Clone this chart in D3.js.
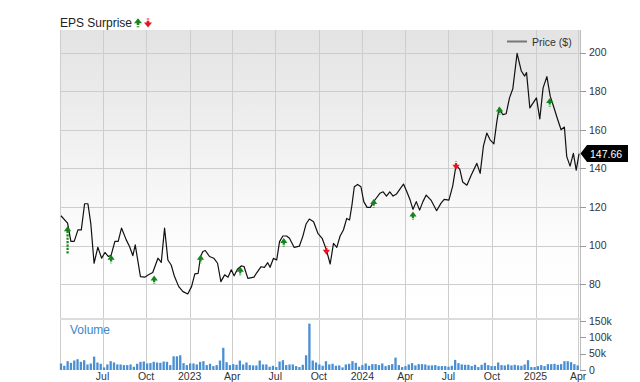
<!DOCTYPE html>
<html><head><meta charset="utf-8">
<script src="https://cdn.jsdelivr.net/npm/d3@7"></script>
<style>html,body{margin:0;padding:0;background:#fff}svg{display:block;font-family:"Liberation Sans",Arial,sans-serif}</style>
</head><body><svg id="c" width="640" height="382"></svg>
<script>
// ---------- data ----------
const priceDates = ["2022-04-04","2022-04-18","2022-04-25","2022-05-02","2022-05-10","2022-05-17","2022-05-24","2022-05-31","2022-06-06","2022-06-13","2022-06-21","2022-06-29","2022-07-06","2022-07-13","2022-07-19","2022-07-27","2022-08-03","2022-08-10","2022-08-20","2022-08-27","2022-09-03","2022-09-08","2022-09-19","2022-09-28","2022-10-06","2022-10-15","2022-10-26","2022-11-02","2022-11-09","2022-11-16","2022-11-23","2022-11-30","2022-12-09","2022-12-18","2022-12-28","2023-01-05","2023-01-12","2023-01-19","2023-01-24","2023-01-29","2023-02-03","2023-02-12","2023-02-21","2023-03-01","2023-03-08","2023-03-16","2023-03-23","2023-03-30","2023-04-05","2023-04-12","2023-04-20","2023-04-26","2023-05-04","2023-05-17","2023-05-22","2023-06-01","2023-06-08","2023-06-15","2023-06-20","2023-06-27","2023-07-04","2023-07-10","2023-07-17","2023-07-25","2023-07-31","2023-08-10","2023-08-21","2023-08-28","2023-09-04","2023-09-11","2023-09-20","2023-09-29","2023-10-08","2023-10-17","2023-10-25","2023-11-01","2023-11-08","2023-11-15","2023-11-22","2023-11-29","2023-12-05","2023-12-10","2023-12-15","2023-12-22","2023-12-29","2024-01-04","2024-01-11","2024-01-18","2024-01-25","2024-01-31","2024-02-07","2024-02-14","2024-02-21","2024-02-28","2024-03-06","2024-03-13","2024-03-20","2024-03-28","2024-04-04","2024-04-11","2024-04-17","2024-04-24","2024-05-01","2024-05-08","2024-05-15","2024-05-25","2024-06-06","2024-06-15","2024-06-22","2024-07-02","2024-07-10","2024-07-17","2024-07-25","2024-07-31","2024-08-09","2024-08-18","2024-08-30","2024-09-06","2024-09-13","2024-09-20","2024-09-27","2024-10-05","2024-10-11","2024-10-16","2024-10-24","2024-10-31","2024-11-07","2024-11-14","2024-11-23","2024-12-02","2024-12-09","2024-12-13","2024-12-20","2024-12-27","2025-01-03","2025-01-10","2025-01-17","2025-01-25","2025-02-01","2025-02-08","2025-02-17","2025-02-24","2025-03-03","2025-03-08","2025-03-15","2025-03-22","2025-03-28","2025-04-03"];
const priceValues = [115.5,111.7,102.2,102.2,108.2,108.2,121.7,121.7,111.7,90.9,99.2,93.5,96.5,94.4,95.0,102.2,102.2,109.1,103.0,99.6,94.8,100.4,84.0,83.7,84.9,86.1,93.5,91.3,109.1,92.6,90.0,84.0,78.8,76.2,75.0,78.8,85.4,85.7,94.4,97.0,97.5,94.4,93.5,90.9,81.4,84.9,83.7,87.5,84.4,87.8,89.5,89.2,83.1,83.7,85.7,89.1,88.8,91.2,88.8,93.4,92.6,102.1,105.0,105.0,103.8,99.1,99.8,104.7,111.2,113.8,112.4,106.4,103.8,97.8,90.5,101.2,99.1,105.0,108.1,114.1,113.3,121.0,130.5,131.7,130.5,122.8,119.8,119.8,122.8,124.8,127.1,127.9,125.7,127.9,125.7,126.7,129.1,131.9,127.9,123.6,118.8,122.8,118.4,122.8,126.2,123.6,118.1,121.9,124.0,123.6,131.0,141.7,139.5,133.0,131.3,136.5,142.6,137.4,151.7,158.3,154.8,152.7,163.8,171.3,167.8,168.3,176.5,181.2,199.5,190.4,187.8,189.6,171.3,173.9,176.5,165.6,181.7,187.5,177.4,172.2,165.2,160.0,161.4,146.1,141.2,147.8,139.1,147.66];
const lastPrice = 147.66;

const volumeWeekStart = "2022-04-04"; // one bar per week
const volumeValues = [20,13,27,22,29,33,25,30,17,20,41,23,19,8,17,27,23,17,17,15,15,17,10,19,25,26,20,21,25,23,22,26,25,15,42,42,45,21,15,
 20,20,17,25,27,15,19,12,15,29,68,24,15,18,16,29,17,23,15,14,14,29,17,17,10,13,9,26,30,15,17,17,12,9,16,45,142,29,23,
 17,13,27,17,19,13,14,8,17,19,27,22,10,15,20,13,18,18,15,20,12,15,18,38,15,9,12,17,21,14,18,18,17,14,14,15,12,12,12,
 10,13,31,21,17,16,16,12,16,9,16,22,15,12,12,23,15,14,17,14,16,14,13,17,30,9,9,12,15,12,18,18,19,16,18,27,27,24,18,14]; // thousands

const priceTicks = [80,100,120,140,160,180,200];
const volumeTicks = [0,50,100,150];
const volumeTickLabels = ["0","50k","100k","150k"];
const xTickDates = ["2022-07-01","2022-10-01","2023-01-01","2023-04-01","2023-07-01","2023-10-01","2024-01-01","2024-04-01","2024-07-01","2024-10-01","2025-01-01","2025-04-01"];
const xTickLabels = ["Jul","Oct","2023","Apr","Jul","Oct","2024","Apr","Jul","Oct","2025","Apr"];

const epsDates = ["2022-04-18","2022-07-19","2022-10-18","2023-01-24","2023-04-18","2023-07-19","2023-10-17","2024-01-25","2024-04-17","2024-07-17","2024-10-17","2025-01-31"];
const epsResult = ["beat","beat","beat","beat","beat","beat","miss","beat","beat","miss","beat","beat"];
const epsTip = [110,95.3,84.5,95.3,89.1,104,95.3,124.1,117.7,139.3,172,176.5];
const epsStemFrom = [95.3,null,null,null,null,null,null,null,null,null,null,null];

// ---------- drawing ----------
const parse = d3.utcParse("%Y-%m-%d");
const svg = d3.select("#c");
const L = 60, R = 580, PT = 30, PB = 318, VT = 319, VB = 370;
const GREEN = "#12861a", RED = "#e8141c", GRID = "#cdcdcd";

const x = d3.scaleUtc().domain([parse("2022-04-02"), parse("2025-04-05")]).range([L, R]);
const yP = d3.scaleLinear().domain([80, 200]).range([284.3, 52.5]);
const yV = d3.scaleLinear().domain([0, 150]).range([VB, 321]);

const defs = svg.append("defs");
const grad = defs.append("linearGradient").attr("id", "bg").attr("x1", 0).attr("y1", 0).attr("x2", 0).attr("y2", 1);
grad.append("stop").attr("offset", "0%").attr("stop-color", "#e3e3e3");
grad.append("stop").attr("offset", "75%").attr("stop-color", "#fdfdfd");
grad.append("stop").attr("offset", "100%").attr("stop-color", "#ffffff");

svg.append("rect").attr("x", L).attr("y", PT).attr("width", R - L).attr("height", PB - PT).attr("fill", "url(#bg)");
svg.append("rect").attr("x", L).attr("y", VT).attr("width", R - L).attr("height", VB - VT).attr("fill", "#fff");

// grid
const g = svg.append("g").attr("shape-rendering", "crispEdges");
g.selectAll(".hg").data(priceTicks).join("line")
  .attr("x1", L).attr("x2", R).attr("y1", d => Math.round(yP(d)) + 0.5).attr("y2", d => Math.round(yP(d)) + 0.5)
  .attr("stroke", GRID);
g.selectAll(".vg").data(xTickDates).join("line")
  .attr("x1", d => Math.round(x(parse(d))) + 0.5).attr("x2", d => Math.round(x(parse(d))) + 0.5)
  .attr("y1", PT).attr("y2", VB).attr("stroke", GRID);
g.append("line").attr("x1", L + 0.5).attr("x2", L + 0.5).attr("y1", PT).attr("y2", VB).attr("stroke", GRID);
g.append("line").attr("x1", L).attr("x2", R).attr("y1", 318.5).attr("y2", 318.5).attr("stroke", "#dcdcdc").attr("stroke-width", 2);

// volume bars
const vStart = parse(volumeWeekStart);
svg.append("g").selectAll("rect").data(volumeValues).join("rect")
  .attr("x", (d, i) => x(d3.utcDay.offset(vStart, 7 * i)) - 1.1)
  .attr("width", 2.3)
  .attr("y", d => yV(d))
  .attr("height", d => VB - yV(d))
  .attr("fill", "#4a8fd2");

svg.append("text").attr("x", 70).attr("y", 334).attr("font-size", 12).attr("fill", "#3b87c9").text("Volume");

// right axis
const ax = svg.append("g").attr("shape-rendering", "crispEdges");
ax.append("line").attr("x1", R + 0.5).attr("x2", R + 0.5).attr("y1", PT).attr("y2", VB).attr("stroke", "#bdbdbd");
ax.selectAll(".pt").data(priceTicks).join("line")
  .attr("x1", R).attr("x2", R + 6).attr("y1", d => Math.round(yP(d)) + 0.5).attr("y2", d => Math.round(yP(d)) + 0.5).attr("stroke", "#999");
ax.selectAll(".vt").data(volumeTicks).join("line")
  .attr("x1", R).attr("x2", R + 6).attr("y1", d => Math.round(yV(d)) + 0.5).attr("y2", d => Math.round(yV(d)) + 0.5).attr("stroke", "#999");
svg.selectAll(".pl").data(priceTicks).join("text")
  .attr("x", 589).attr("y", d => yP(d) + 3.8).attr("font-size", 10.5).attr("fill", "#333").text(d => d);
svg.selectAll(".vl").data(volumeTicks).join("text")
  .attr("x", 589).attr("y", d => yV(d) + 3.8).attr("font-size", 10.5).attr("fill", "#333").text((d, i) => volumeTickLabels[i]);

// x labels
svg.selectAll(".xl").data(xTickDates).join("text")
  .attr("x", d => x(parse(d))).attr("y", 380).attr("text-anchor", "middle")
  .attr("font-size", 10.5).attr("fill", "#333").text((d, i) => xTickLabels[i]);

// price line
const pts = priceDates.map((d, i) => [parse(d), priceValues[i]]);
svg.append("path").datum(pts)
  .attr("d", d3.line().x(d => x(d[0])).y(d => yP(d[1])))
  .attr("fill", "none").attr("stroke", "#111").attr("stroke-width", 1.2).attr("stroke-linejoin", "round");

// eps arrows
function arrow(sel, cx, tipY, dir, stemLen, color, hw, hh, sw) {
  const grp = sel.append("g");
  const s = dir === "beat" ? 1 : -1;
  grp.append("path").attr("d", `M${cx},${tipY} L${cx - hw},${tipY + s * hh} L${cx + hw},${tipY + s * hh} Z`).attr("fill", color);
  grp.append("line").attr("x1", cx).attr("x2", cx).attr("y1", tipY + s * (hh - 0.5)).attr("y2", tipY + s * (hh + stemLen))
    .attr("stroke", color).attr("stroke-width", sw).attr("stroke-dasharray", "2.2,1.2");
}
const eg = svg.append("g");
epsDates.forEach((d, i) => {
  const cx = x(parse(d)), tipY = yP(epsTip[i]);
  const dir = epsResult[i];
  let stem = 3.5;
  if (epsStemFrom[i] != null) stem = Math.abs(yP(epsStemFrom[i]) - tipY) - 5;
  arrow(eg, cx, tipY, dir, stem, dir === "beat" ? GREEN : RED, 3.6, 5, 2.2);
});

// title
svg.append("text").attr("x", 60).attr("y", 27).attr("font-size", 12).attr("fill", "#222").text("EPS Surprise");
arrow(svg, 138, 18.3, "beat", 4, GREEN, 4, 5, 2.6);
arrow(svg, 148, 27.5, "miss", 4, RED, 4, 5, 2.6);

// legend
svg.append("line").attr("x1", 507).attr("x2", 527).attr("y1", 41.5).attr("y2", 41.5).attr("stroke", "#777").attr("stroke-width", 2);
svg.append("text").attr("x", 532).attr("y", 45.5).attr("font-size", 10.5).attr("fill", "#333").text("Price ($)");

// last price label
const ly = yP(lastPrice);
svg.append("path").attr("d", `M580.5,${ly} L587,${ly - 8.5} L628,${ly - 8.5} L628,${ly + 8.5} L587,${ly + 8.5} Z`).attr("fill", "#000");
svg.append("text").attr("x", 590).attr("y", ly + 4).attr("font-size", 10.5).attr("fill", "#fff").text(lastPrice.toFixed(2));
</script>
</body></html>
